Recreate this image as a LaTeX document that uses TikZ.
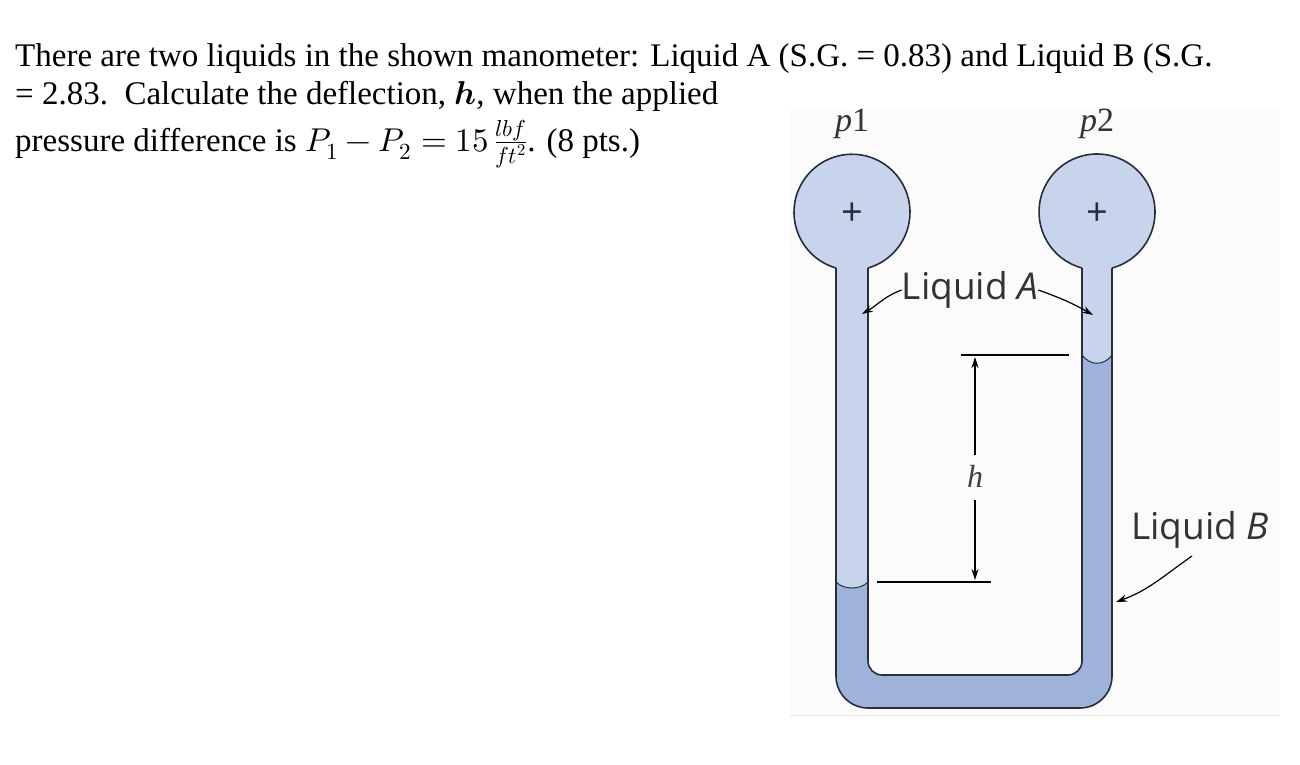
\documentclass[tikz,border=0pt]{standalone}
\usepackage{fontspec}
\usepackage{unicode-math}
\setmainfont{Liberation Serif}
\setmathfont{Latin Modern Math}
\newfontfamily\lblfont{Open Sans}
\usetikzlibrary{arrows.meta}
\definecolor{liqA}{RGB}{200,211,236}
\definecolor{liqB}{RGB}{158,178,218}
\definecolor{edge}{RGB}{40,45,60}
\tikzset{
  outline/.style={draw=edge,line width=1.6pt},
  leader/.style={draw=black,line width=1.2pt,-{Stealth[length=11pt,width=7pt]}},
  dimline/.style={draw=black,line width=1.3pt},
  lbl/.style={font=\lblfont\fontsize{37}{40}\selectfont,text=black!80,inner sep=0pt},
  ptext/.style={font=\fontsize{33}{36}\selectfont,anchor=base west,inner sep=0pt}
}
\begin{document}
\begin{tikzpicture}[x=1pt,y=-1pt]
\useasboundingbox[fill=white] (0,0) rectangle (1300,764);
% faint panel
\fill[black!1.5] (790,110) rectangle (1280,714);
\draw[black!10,line width=1pt] (790,715) -- (1280,715);
% text
\node[ptext] (t1) at (15,66) {There are two liquids in the shown manometer: Liquid A (S.G. = 0.83) and Liquid B (S.G.};
\node[ptext] (t2) at (15,104) {= 2.83.\ \ Calculate the deflection, $\symbfit{h}$, when the applied};
\node[ptext] (t3) at (15,151) {pressure difference is $P_1 - P_2 = 15\,{\textstyle\frac{\scriptstyle lbf}{\scriptstyle ft^2}}$. (8 pts.)};
% liquid B
\fill[liqB] (836,582) [rounded corners=32pt] -- (836,708) -- (1112,708) [sharp corners] -- (1112,355) -- (1082,355) [rounded corners=14pt] -- (1082,675) -- (868,675) [sharp corners] -- (868,582) -- cycle;
% liquid A
\fill[liqA] (836,582) -- (836,268) arc[start angle=106,end angle=434,radius=58] -- (868,582) .. controls (860,590) and (844,590) .. (836,582) -- cycle;
\fill[liqA] (1082,355) -- (1082,268) arc[start angle=105,end angle=435,radius=58] -- (1112,355) .. controls (1104,366) and (1090,366) .. (1082,355) -- cycle;
% meniscus lines
\draw[edge,line width=1pt] (836,582) .. controls (844,590) and (860,590) .. (868,582);
\draw[edge,line width=1pt] (1082,355) .. controls (1090,366) and (1104,366) .. (1112,355);
% outlines
\draw[outline] (836,268) arc[start angle=106,end angle=434,radius=58];
\draw[outline] (1082,268) arc[start angle=105,end angle=435,radius=58];
\draw[outline,rounded corners=32pt] (836,268) -- (836,708) -- (1112,708) -- (1112,268);
\draw[outline,rounded corners=14pt] (868,268) -- (868,675) -- (1082,675) -- (1082,268);
% plus marks
\node[font=\lblfont\fontsize{38}{38}\selectfont,text=edge] (plus1) at (852,214) {+};
\node[font=\lblfont\fontsize{38}{38}\selectfont,text=edge] (plus2) at (1097,214) {+};
% P labels
\node[font=\fontsize{34}{36}\selectfont,text=black!80] (p1) at (852,124) {\textit{p}1};
\node[font=\fontsize{34}{36}\selectfont,text=black!80] (p2) at (1097,124) {\textit{p}2};
% h dimension
\coordinate (ut) at (961,355); \coordinate (ue) at (1069,355);
\coordinate (lt) at (877,582); \coordinate (le) at (991,582);
\draw[dimline] (ut) -- (ue);
\draw[dimline] (lt) -- (le);
\node[font=\fontsize{32}{32}\selectfont,text=black!75] (h) at (975,476) {\textit{h}};
\coordinate (atop) at (975,357); \coordinate (abot) at (975,580);
\draw[leader] (975,455) -- (atop);
\draw[leader] (975,500) -- (abot);
% Liquid A label
\node[lbl] (la) at (970,290) {Liquid \textit{A}};
\coordinate (laL) at (862,314); \coordinate (laR) at (1093,315);
\draw[leader] (la.west) to[out=200,in=30] (laL);
\draw[leader] (la.east) to[out=-20,in=150] (laR);
% Liquid B label
\node[lbl] (lb) at (1200,530) {Liquid \textit{B}};
\coordinate (lbt) at (1116,602);
\draw[leader] (1192,556) to[out=215,in=20] (lbt);
\end{tikzpicture}
\end{document}
